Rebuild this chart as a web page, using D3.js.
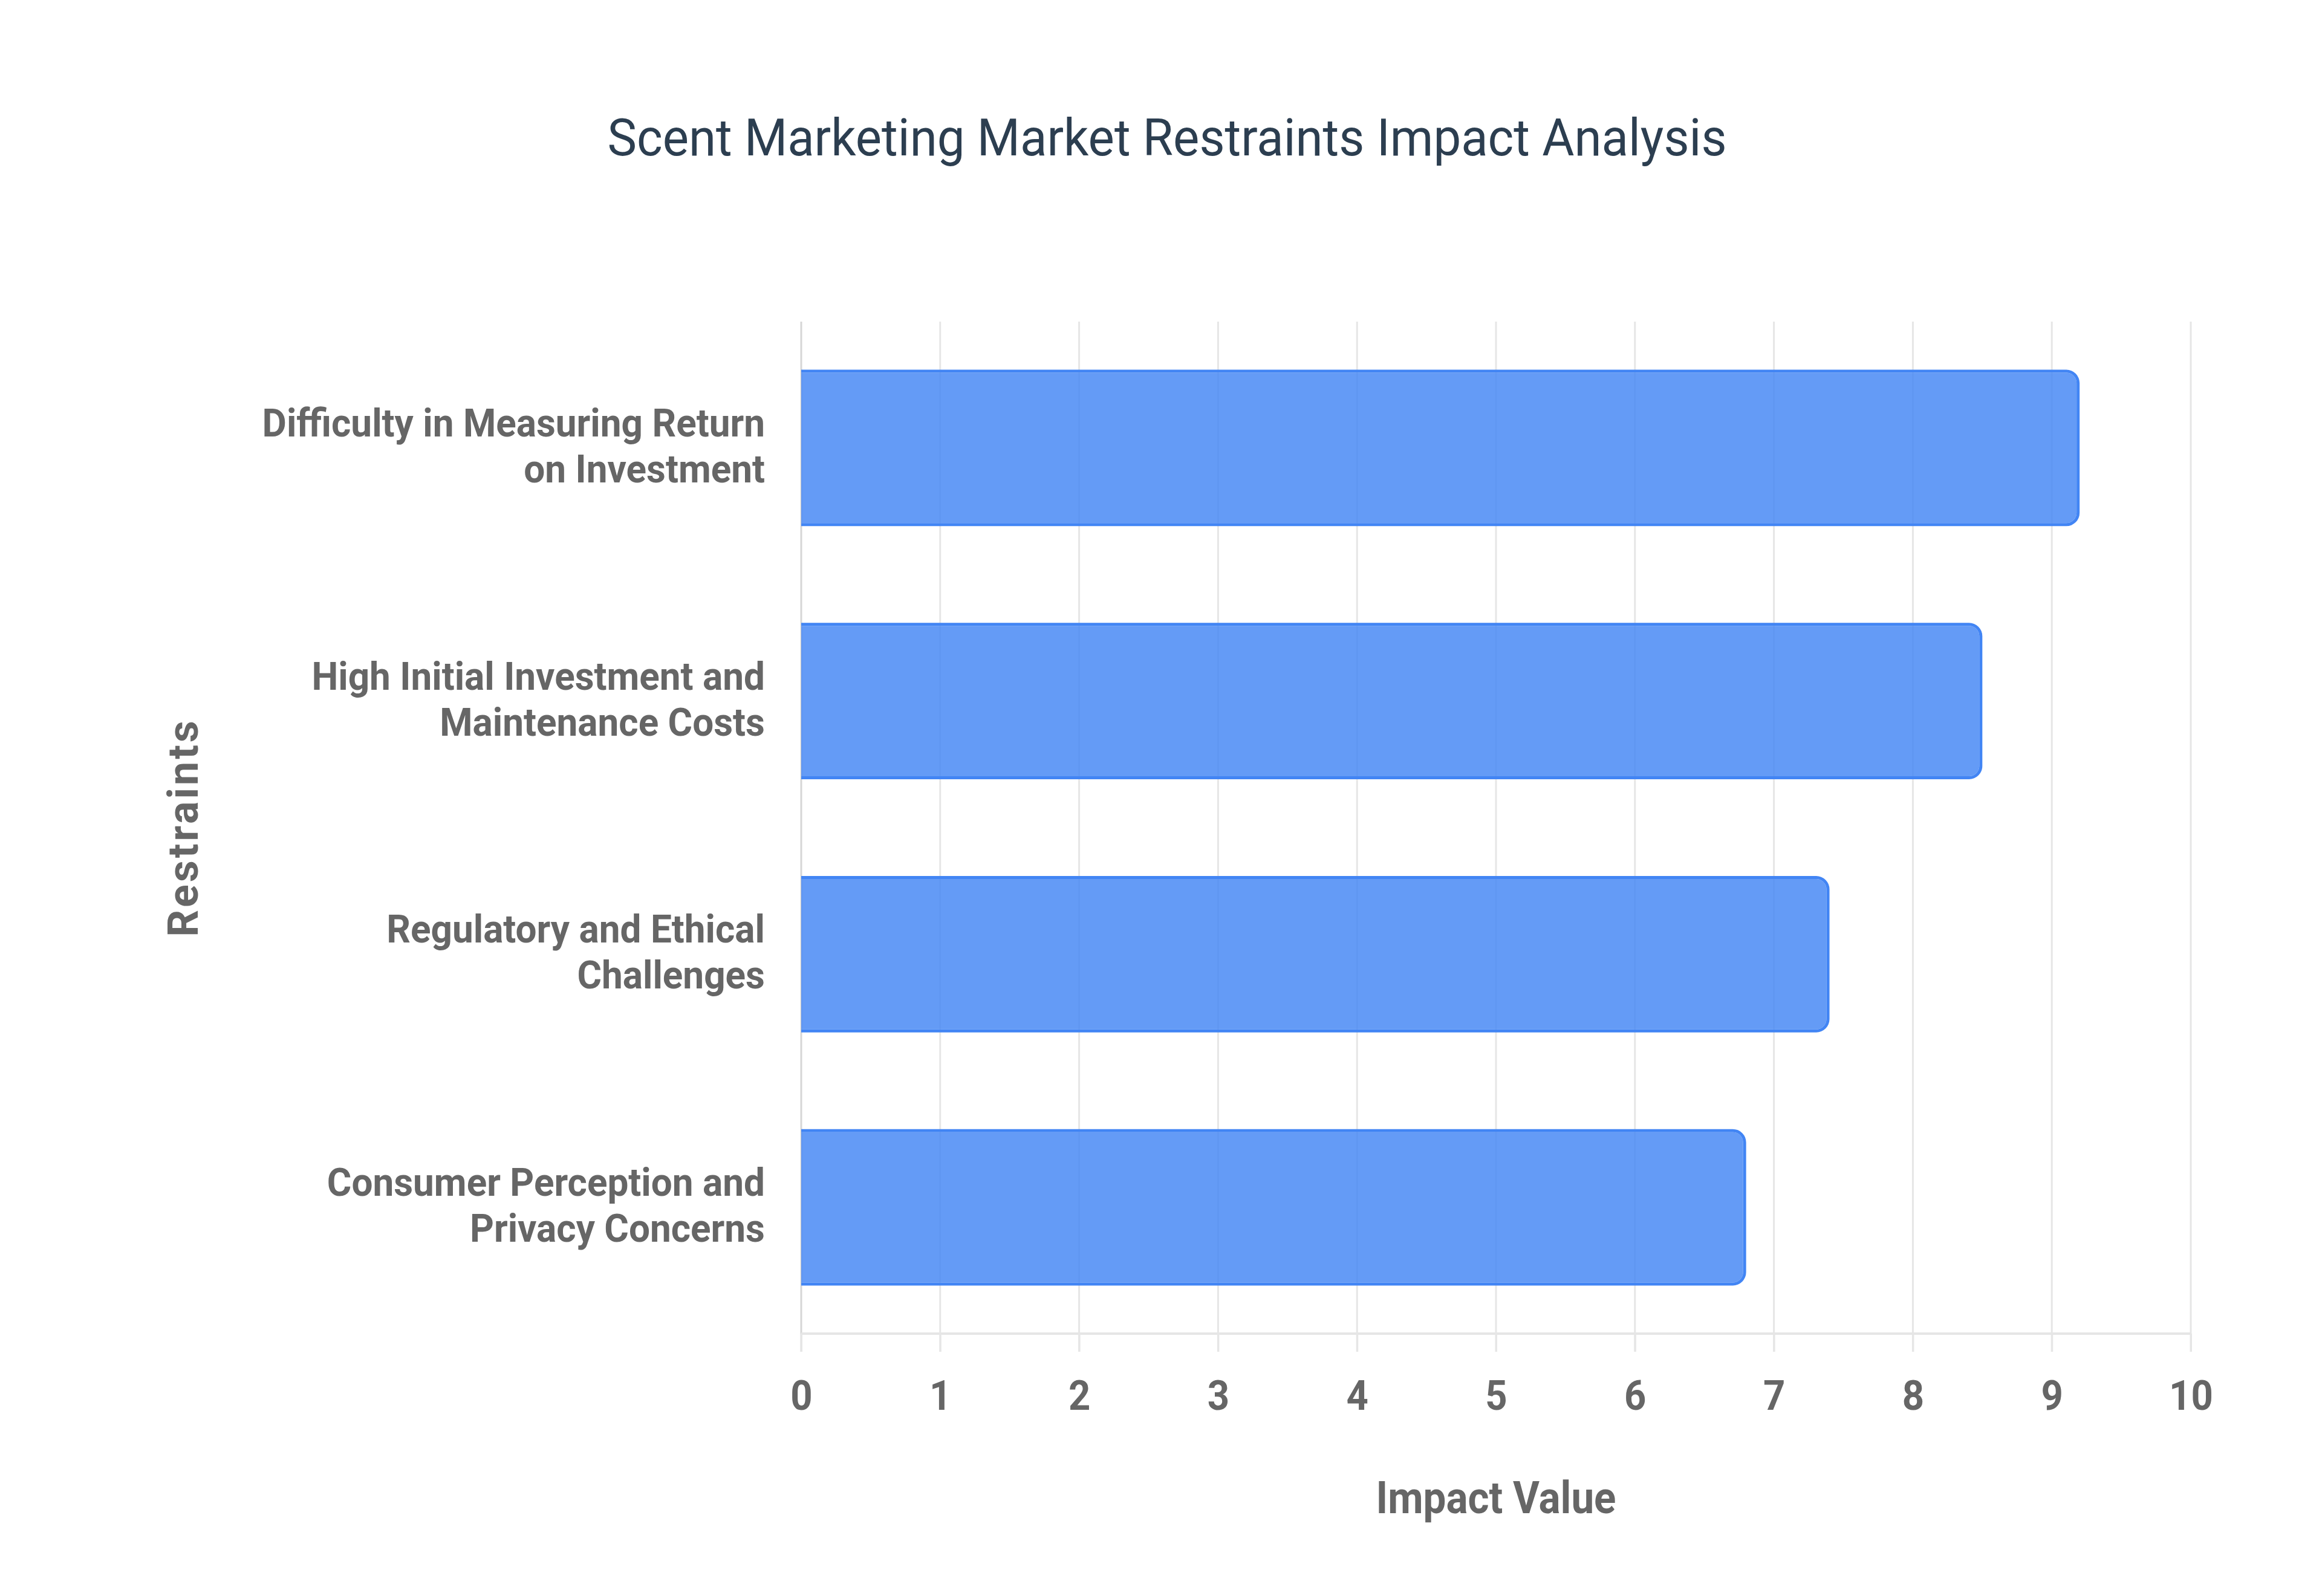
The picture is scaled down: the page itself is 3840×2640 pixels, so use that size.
<!DOCTYPE html>
<html><head><meta charset="utf-8">
<script src="https://cdn.jsdelivr.net/npm/d3@7"></script>
<style>html,body{margin:0;padding:0;background:#fff;} svg{display:block;}</style>
</head><body>
<svg id="chart" width="3840" height="2640"></svg>
<script>
// ---- data ----
const categories = [
  "Difficulty in Measuring Return on Investment",
  "High Initial Investment and Maintenance Costs",
  "Regulatory and Ethical Challenges",
  "Consumer Perception and Privacy Concerns"
];
const labelLines = [
  ["Difficulty in Measuring Return", "on Investment"],
  ["High Initial Investment and", "Maintenance Costs"],
  ["Regulatory and Ethical", "Challenges"],
  ["Consumer Perception and", "Privacy Concerns"]
];
const values = [9.2, 8.5, 7.4, 6.8];
const xTicks = [0, 1, 2, 3, 4, 5, 6, 7, 8, 9, 10];
const titleText = "Scent Marketing Market Restraints Impact Analysis";
const xTitleText = "Impact Value";
const yTitleText = "Restraints";

(function draw() {
  const svg = d3.select("#chart");
  const pLeft = 1325, pRight = 3623, pTop = 532, pBottom = 2206;
  const FONT = "Roboto, 'Liberation Sans', Arial, sans-serif";
  const GRAY = "#666666";

  const x = d3.scaleLinear().domain([0, 10]).range([pLeft, pRight]);
  const y = d3.scaleBand().domain(categories).range([pTop, pBottom])
    .paddingInner(0.382).paddingOuter(0.19);

  // title
  svg.append("text")
    .attr("x", 1930).attr("y", 257)
    .attr("text-anchor", "middle")
    .attr("font-family", FONT).attr("font-size", 86)
    .attr("textLength", 1851).attr("lengthAdjust", "spacingAndGlyphs")
    .attr("fill", "#2c3e50")
    .text(titleText);

  // gridlines
  svg.append("g").selectAll("line").data(xTicks).join("line")
    .attr("x1", d => x(d)).attr("x2", d => x(d))
    .attr("y1", pTop).attr("y2", pBottom + 30)
    .attr("stroke", d => d === 0 ? "#d6d6d6" : "#e6e6e6")
    .attr("stroke-width", 3);

  // x axis
  const xAxis = svg.append("g").attr("transform", `translate(0,${pBottom})`)
    .call(d3.axisBottom(x).tickValues(xTicks).tickSize(30).tickFormat(d3.format("d")));
  xAxis.select(".domain").attr("stroke", "#e6e6e6").attr("stroke-width", 4)
    .attr("d", `M${pLeft},0H${pRight}`);
  xAxis.selectAll(".tick line").attr("stroke", "#e6e6e6").attr("stroke-width", 3);
  xAxis.selectAll(".tick text")
    .attr("y", 126).attr("dy", null)
    .attr("transform", "scale(0.92,1)")
    .attr("font-family", FONT).attr("font-size", 69).attr("font-weight", "bold")
    .attr("fill", GRAY);

  // y axis
  const SX = 0.955;
  const yAxis = svg.append("g").attr("transform", `translate(${pLeft},0)`)
    .call(d3.axisLeft(y).tickSize(0).tickFormat(""));
  yAxis.select(".domain").remove();
  yAxis.selectAll(".tick").each(function(d, i) {
    const t = d3.select(this).append("text")
      .attr("transform", `translate(-60,0) scale(${SX},1)`)
      .attr("text-anchor", "end")
      .attr("font-family", FONT).attr("font-size", 65).attr("font-weight", "bold")
      .attr("fill", GRAY);
    labelLines[i].forEach((ln, k) => {
      t.append("tspan").attr("x", 0).attr("y", k === 0 ? -19 : 57).text(ln);
    });
  });

  // axis titles
  svg.append("text")
    .attr("transform", `translate(${(pLeft + pRight) / 2},2503) scale(0.91,1)`)
    .attr("text-anchor", "middle")
    .attr("font-family", FONT).attr("font-size", 74).attr("font-weight", "bold")
    .attr("fill", GRAY).text(xTitleText);

  svg.append("text")
    .attr("transform", `translate(327,${(pTop + pBottom) / 2}) rotate(-90)`)
    .attr("text-anchor", "middle")
    .attr("font-family", FONT).attr("font-size", 70).attr("font-weight", "bold")
    .attr("letter-spacing", 4)
    .attr("fill", GRAY).text(yTitleText);

  // bars
  function endRounded(p, xa, xb, ya, yb, r) {
    r = Math.max(0, Math.min(r, (yb - ya) / 2, xb - xa));
    p.moveTo(xa, ya);
    p.lineTo(xb - r, ya);
    p.arcTo(xb, ya, xb, ya + r, r);
    p.lineTo(xb, yb - r);
    p.arcTo(xb, yb, xb - r, yb, r);
    p.lineTo(xa, yb);
    p.closePath();
  }
  const BW = 5, R = 22;
  const bars = svg.append("g");
  categories.forEach((c, i) => {
    const xa = x(0), xb = x(values[i]);
    const ya = y(c), yb = y(c) + y.bandwidth();
    const ring = d3.path();
    endRounded(ring, xa, xb, ya, yb, R);
    endRounded(ring, xa, xb - BW, ya + BW, yb - BW, R - BW);
    bars.append("path").attr("d", ring.toString())
      .attr("fill", "#4285f4").attr("fill-rule", "evenodd");
    const inner = d3.path();
    endRounded(inner, xa, xb - BW, ya + BW, yb - BW, R - BW);
    bars.append("path").attr("d", inner.toString())
      .attr("fill", "rgba(66,133,244,0.82)");
  });
})();
</script>
</body></html>
